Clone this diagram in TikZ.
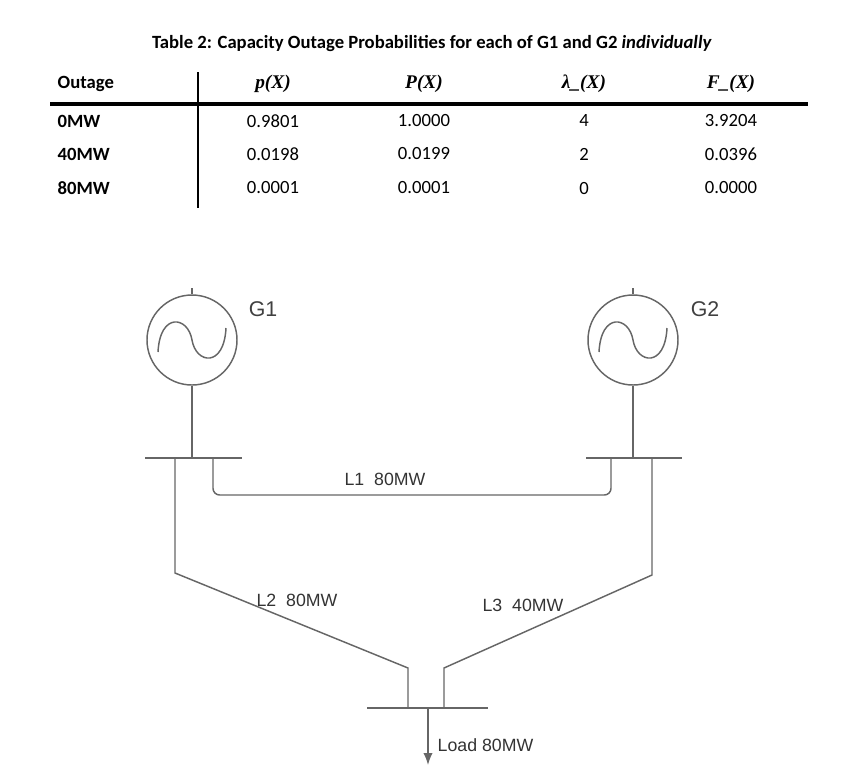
\documentclass[tikz,border=0pt]{standalone}
\usepackage{fontspec}
\usetikzlibrary{arrows.meta}
\setmainfont{Carlito}
\newfontfamily\arialf{Liberation Sans}
\newfontfamily\mathf{Liberation Serif}
\begin{document}
\begin{tikzpicture}[x=0.75pt,y=-0.75pt,
  ln/.style={draw=black!60,line width=1.1pt},
  hd/.style={font=\bfseries\fontsize{14}{16}\selectfont},
  cell/.style={font=\fontsize{14}{16}\selectfont},
  mh/.style={font=\mathf\bfseries\itshape\fontsize{14.5}{16}\selectfont},
  lab/.style={font=\arialf\fontsize{13.3}{15}\selectfont,text=black!80},
  gl/.style={font=\arialf\fontsize{16}{18}\selectfont,text=black!75}]
\path[use as bounding box] (0,0) rectangle (864,776);
\node[hd] (title) at (432,44) {Table 2: Capacity Outage Probabilities for each of G1 and G2 \textit{individually}};
\draw[line width=2.2pt] (198,72) -- (198,208);
\draw[line width=2.6pt] (50,104) -- (808,104);
\node[hd,anchor=west] (h0) at (53,84) {Outage};
\node[mh] (h1) at (273,84) {p(X)};
\node[mh] (h2) at (424,84) {P(X)};
\node[mh] (h3) at (584,84) {λ\_(X)};
\node[mh] (h4) at (731,84) {F\_(X)};
\foreach \y/\a/\b/\c/\d/\e/\n in {121/0MW/0.9801/1.0000/4/3.9204/a,154/40MW/0.0198/0.0199/2/0.0396/b,188/80MW/0.0001/0.0001/0/0.0000/c}{
  \node[hd,anchor=west] (r\n0) at (53,\y) {\a};
  \node[cell] (r\n1) at (273,\y) {\b};
  \node[cell] (r\n2) at (424,\y) {\c};
  \node[cell] (r\n3) at (584,\y) {\d};
  \node[cell] (r\n4) at (731,\y) {\e};
}
% generators
\foreach \cx/\nm in {192/g1,633/g2}{
  \node[circle,ln,minimum size=90*0.75pt,inner sep=0] (\nm) at (\cx,340) {};
  \draw[ln] (\cx,288) -- (\nm.north);
  \draw[ln] (\cx-34,352) .. controls (\cx-32,312) and (\cx-4,316) .. (\cx,340)
            .. controls (\cx+4,364) and (\cx+32,368) .. (\cx+34,328);
  \draw[ln] (\nm.south) -- (\cx,458);
}
\node[gl] (lg1) at (263,309) {G1};
\node[gl] (lg2) at (705,309) {G2};
% buses
\coordinate (b1l) at (145,458); \coordinate (b1r) at (242,458);
\coordinate (b2l) at (586,458); \coordinate (b2r) at (682,458);
\coordinate (b3l) at (367,708); \coordinate (b3r) at (488,708);
\draw[ln] (b1l) -- (b1r);
\draw[ln] (b2l) -- (b2r);
\draw[ln] (b3l) -- (b3r);
\draw[ln,rounded corners=5pt] (213,458) -- (213,495) -- (611,495) -- (611,458);
\draw[ln] (175,458) -- (175,573) -- (408,668) -- (408,708);
\draw[ln] (652,458) -- (652,575) -- (444,668) -- (444,708);
\coordinate (ld) at (428,765);
\draw[ln,-{Latex[length=9pt,width=7pt]}] (428,708) -- (ld);
\node[lab] (l1) at (385,479) {L1\ \ 80MW};
\node[lab] (l2) at (297,600) {L2\ \ 80MW};
\node[lab] (l3) at (523,605) {L3\ \ 40MW};
\node[lab,anchor=west] (lload) at (433,745) {Load 80MW};
\end{tikzpicture}
\end{document}
